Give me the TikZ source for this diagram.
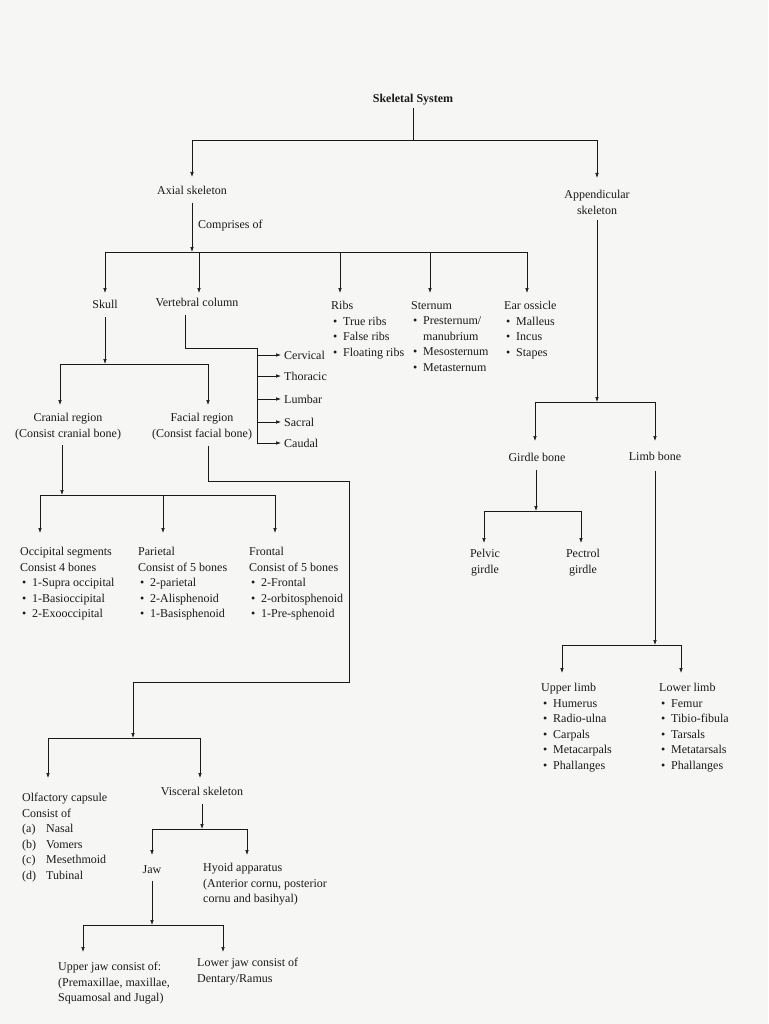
\documentclass[tikz,border=0pt]{standalone}
\usepackage{fontspec}
\setmainfont{Liberation Serif}
\usetikzlibrary{arrows.meta,positioning,calc}
\definecolor{Ink}{HTML}{1A1A1A}
\definecolor{Paper}{HTML}{F6F6F4}
\newcommand{\lbl}{\fontsize{12}{15.5}\selectfont}
\newcommand{\bul}{\hspace*{2pt}\makebox[10pt][l]{\textbullet}}
\newcommand{\tag}[1]{\makebox[24pt][l]{#1}}

\begin{document}
\begin{tikzpicture}[
  x=1pt,y=-1pt,
  txt/.style={inner sep=0pt,font=\lbl,text=Ink},
  mid/.style={txt,anchor=north,align=center},
  lst/.style={txt,anchor=north west,align=left},
  link/.style={draw=Ink,line width=0.7pt},
  arrow/.style={link,-{Latex[length=5pt,width=3.6pt]}}
]
\fill[Paper] (0,0) rectangle (768,1024);
\useasboundingbox (0,0) rectangle (768,1024);

\node[mid,font=\lbl\bfseries] (sys) at (413,94) {Skeletal System};
\node[mid] (axial) at (192,186) {Axial skeleton};
\node[mid] (appen) at (597,190) {Appendicular\\skeleton};
\coordinate (top) at (413,140);
\draw[link,shorten <=3pt] (sys.south) -- (top);
\draw[arrow,shorten >=9pt] (top) -| (axial.north);
\draw[arrow,shorten >=12pt] (top) -| (appen.north);

\node[txt,anchor=west] (comp) at (198,226) {Comprises of};
\coordinate (ax) at (192,252);
\draw[arrow,shorten <=8pt] (axial.south) -- (ax);

\node[mid] (skull) at (105,300) {Skull};
\node[mid] (vert) at (197,298) {Vertebral column};
\node[lst] (ribs) at (331,301) {Ribs\\\bul True ribs\\\bul False ribs\\\bul Floating ribs};
\node[lst] (stern) at (411,301) {Sternum\\\bul Presternum/\\\hspace*{12pt}manubrium\\\bul Mesosternum\\\bul Metasternum};
\node[lst] (ear) at (504,301) {Ear ossicle\\\bul Malleus\\\bul Incus\\\bul Stapes};
\draw[arrow,shorten >=7pt] (ax) -| (skull.north);
\draw[arrow,shorten >=5pt] (ax) -| ([xshift=2pt]vert.north);
\draw[arrow,shorten >=8pt] (ax) -| ([xshift=9pt]ribs.north west);
\draw[arrow,shorten >=8pt] (ax) -| ([xshift=19pt]stern.north west);
\draw[arrow,shorten >=8pt] (ax) -| ([xshift=23pt]ear.north west);

\node[txt,anchor=west] (cerv) at (284,355) {Cervical};
\node[txt,anchor=west] (thor) at (284,376) {Thoracic};
\node[txt,anchor=west] (lumb) at (284,399) {Lumbar};
\node[txt,anchor=west] (sacr) at (284,422) {Sacral};
\node[txt,anchor=west] (caud) at (284,443) {Caudal};
\coordinate (vc) at (257,348);
\draw[link,shorten <=8pt] ([xshift=30pt]vert.south west) |- (vc) -- (vc |- caud.west);
\foreach \v in {cerv,thor,lumb,sacr,caud}
  \draw[arrow,shorten >=3pt] (vc |- \v.west) -- (\v.west);

\coordinate (sk) at (105,364);
\draw[arrow,shorten <=8pt] (skull.south) -- (sk);
\node[mid] (cran) at (68,413) {Cranial region\\(Consist cranial bone)};
\node[mid] (faci) at (202,413) {Facial region\\(Consist facial bone)};
\draw[arrow,shorten >=8pt] (sk) -| ([xshift=-8pt]cran.north);
\draw[arrow,shorten >=8pt] (sk) -| ([xshift=6pt]faci.north);

\coordinate (cr) at (62,495);
\draw[arrow,shorten <=5pt] (cran.south -| cr) -- (cr);
\node[lst] (occ) at (20,547) {Occipital segments\\Consist 4 bones\\\bul 1-Supra occipital\\\bul 1-Basioccipital\\\bul 2-Exooccipital};
\node[lst] (pari) at (138,547) {Parietal\\Consist of 5 bones\\\bul 2-parietal\\\bul 2-Alisphenoid\\\bul 1-Basisphenoid};
\node[lst] (fron) at (249,547) {Frontal\\Consist of 5 bones\\\bul 2-Frontal\\\bul 2-orbitosphenoid\\\bul 1-Pre-sphenoid};
\draw[arrow,shorten >=14pt] (cr) -| ([xshift=20pt]occ.north west);
\draw[arrow,shorten >=14pt] (cr) -| ([xshift=25pt]pari.north west);
\draw[arrow,shorten >=14pt] (cr) -| ([xshift=26pt]fron.north west);

\coordinate (bend1) at (349,481);
\coordinate (bend2) at (349,682);
\coordinate (fc) at (133,738);
\draw[arrow,shorten <=6pt] ([xshift=6pt]faci.south) |- (bend1) -- (bend2) -| (fc);
\node[lst] (olf) at (22,793) {Olfactory capsule\\Consist of\\\tag{(a)}Nasal\\\tag{(b)}Vomers\\\tag{(c)}Mesethmoid\\\tag{(d)}Tubinal};
\node[mid] (visc) at (202,787) {Visceral skeleton};
\draw[arrow,shorten >=15pt] (fc) -| ([xshift=26pt]olf.north west);
\draw[arrow,shorten >=9pt] (fc) -| ([xshift=-2pt]visc.north);

\coordinate (vs) at (202,829);
\draw[arrow,shorten <=8pt] (visc.south -| vs) -- (vs);
\node[mid] (jaw) at (152,865) {Jaw};
\node[lst] (hyoid) at (203,863) {Hyoid apparatus\\(Anterior cornu, posterior\\cornu and basihyal)};
\draw[arrow,shorten >=10pt] (vs) -| (jaw.north);
\draw[arrow,shorten >=8pt] (vs) -| ([xshift=44pt]hyoid.north west);

\coordinate (jw) at (152,925);
\draw[arrow,shorten <=8pt] (jaw.south) -- (jw);
\node[lst] (upj) at (58,962) {Upper jaw consist of:\\(Premaxillae, maxillae,\\Squamosal and Jugal)};
\node[lst] (lwj) at (197,958) {Lower jaw consist of\\Dentary/Ramus};
\draw[arrow,shorten >=10pt] (jw) -| ([xshift=25pt]upj.north west);
\draw[arrow,shorten >=6pt] (jw) -| ([xshift=26pt]lwj.north west);

\coordinate (ap) at (597,402);
\draw[arrow,shorten <=6pt] (appen.south) -- (ap);
\node[mid] (gird) at (537,453) {Girdle bone};
\node[mid] (limb) at (655,452) {Limb bone};
\draw[arrow,shorten >=12pt] (ap) -| ([xshift=-2pt]gird.north);
\draw[arrow,shorten >=11pt] (ap) -| (limb.north);

\coordinate (gb) at (536,511);
\draw[arrow,shorten <=8pt] (gird.south -| gb) -- (gb);
\node[mid] (pelv) at (485,549) {Pelvic\\girdle};
\node[mid] (pect) at (583,549) {Pectrol\\girdle};
\draw[arrow,shorten >=6pt] (gb) -| ([xshift=-1pt]pelv.north);
\draw[arrow,shorten >=6pt] (gb) -| ([xshift=-2pt]pect.north);

\coordinate (lb) at (655,645);
\draw[arrow,shorten <=10pt] (limb.south) -- (lb);
\node[lst] (upl) at (541,683) {Upper limb\\\bul Humerus\\\bul Radio-ulna\\\bul Carpals\\\bul Metacarpals\\\bul Phallanges};
\node[lst] (lwl) at (659,683) {Lower limb\\\bul Femur\\\bul Tibio-fibula\\\bul Tarsals\\\bul Metatarsals\\\bul Phallanges};
\draw[arrow,shorten >=10pt] (lb) -| ([xshift=21pt]upl.north west);
\draw[arrow,shorten >=10pt] (lb) -| ([xshift=22pt]lwl.north west);
\end{tikzpicture}
\end{document}
